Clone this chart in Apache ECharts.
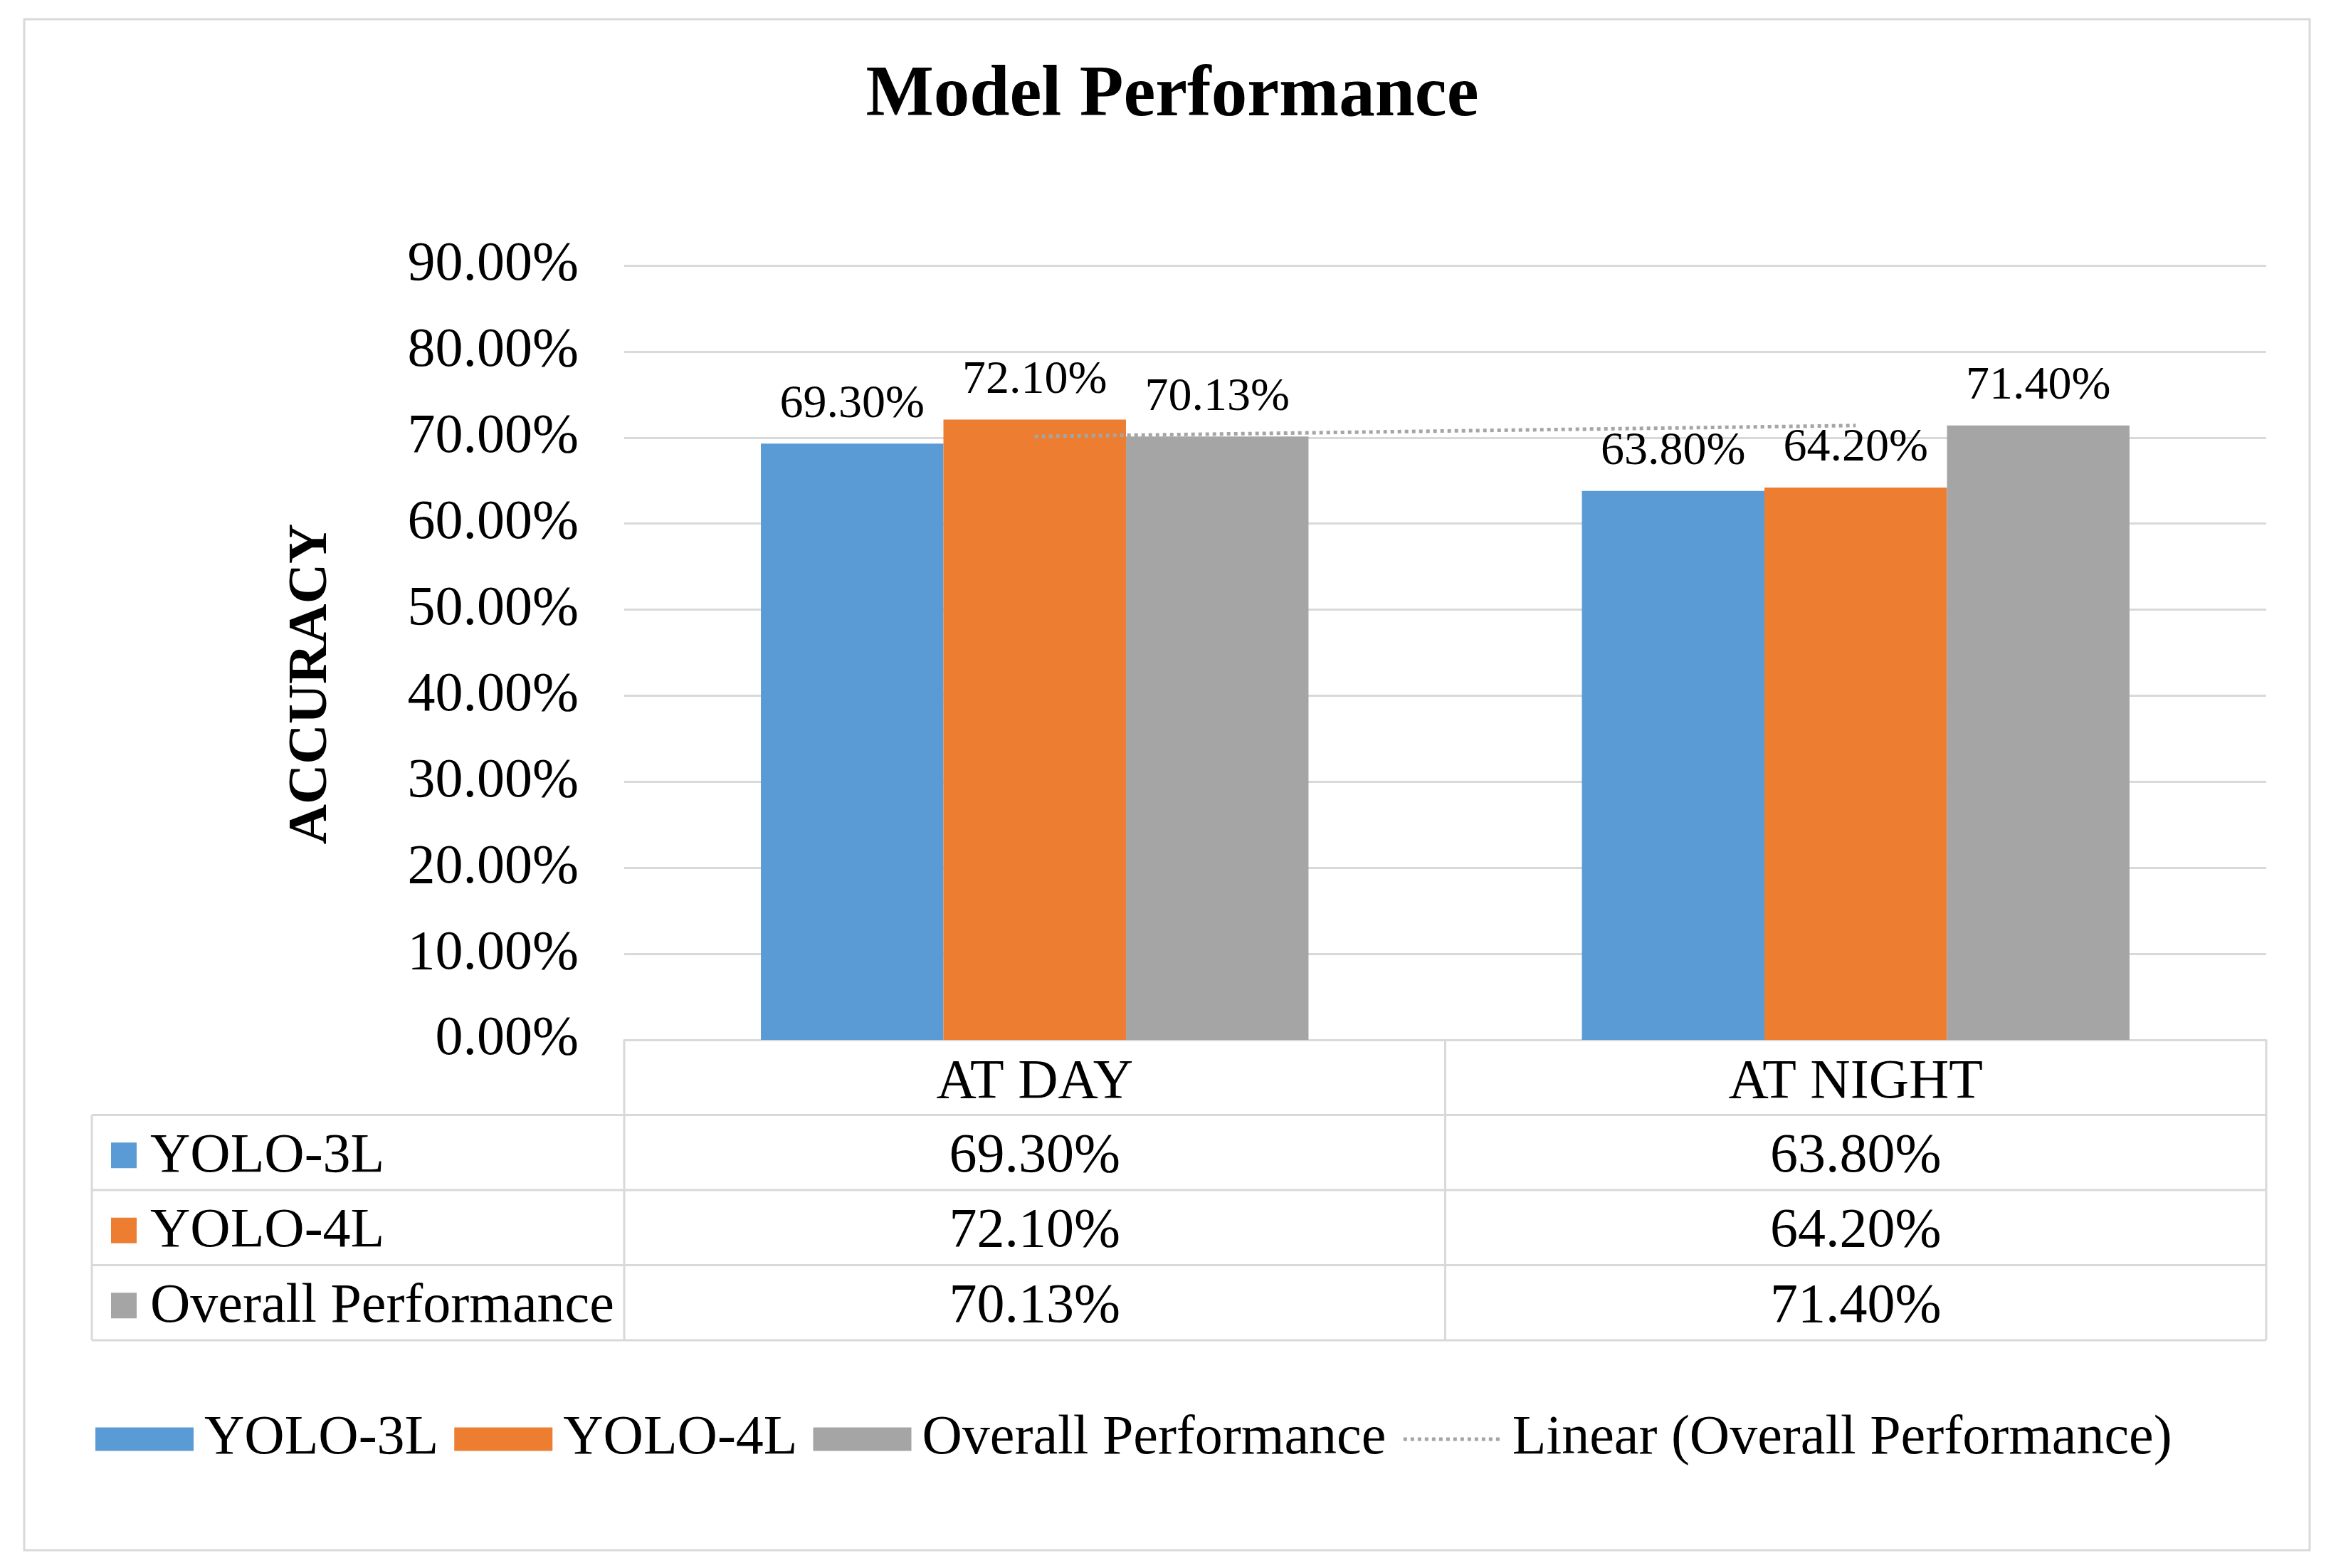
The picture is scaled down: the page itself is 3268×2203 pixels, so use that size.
<!DOCTYPE html>
<html>
<head>
<meta charset="utf-8">
<title>Model Performance</title>
<script src="https://cdn.jsdelivr.net/npm/echarts@6/dist/echarts.min.js"></script>
<style>
  html, body { margin: 0; padding: 0; background: #fff; }
  #chart { width: 3268px; height: 2203px; }
</style>
</head>
<body>
<div id="chart"></div>
<script>
// values
const categories = ['AT DAY', 'AT NIGHT']
const seriesNames = ['YOLO-3L', 'YOLO-4L', 'Overall Performance']
const yolo3L = [0.693, 0.638]
const yolo4L = [0.721, 0.642]
const overall = [0.7013, 0.714]
// a linear fit through two points is the two points themselves
const trendName = 'Linear (Overall Performance)'
const trend = overall.slice()
const yMax = 0.9
const yStep = 0.1

const colors = ['#5b9bd5', '#ed7d31', '#a5a5a5']
const font = "'Liberation Serif', 'Times New Roman', serif"
const fs = 78
const lineColor = '#d9d9d9'
const trendStyle = { color: '#a5a5a5', width: 5, type: 'dotted' }

// layout
const W = 3268
const H = 2203
const gridLeft = 877
const gridRight = 3184
const gridTop = 373
const gridBottom = 1461
const rowH = 105.5
const tableLeft = 129

const pct = v => (v * 100).toFixed(2) + '%'

const chart = echarts.init(document.getElementById('chart'))

const barSeries = [yolo3L, yolo4L, overall].map((d, i) => ({
  name: seriesNames[i],
  type: 'bar',
  data: d,
  barGap: '0%',
  barCategoryGap: '33.3%',
  itemStyle: { color: colors[i] },
  label: {
    show: true,
    position: 'top',
    distance: 22,
    formatter: p => pct(p.value),
    fontFamily: font,
    fontSize: 66,
    color: '#000'
  }
}))

chart.setOption({
  animation: false,
  backgroundColor: '#fff',
  title: {
    text: 'Model Performance',
    left: 1642,
    top: 80,
    textAlign: 'center',
    textStyle: { fontFamily: font, fontSize: 101, fontWeight: 'bold', color: '#000' }
  },
  legend: {
    left: tableLeft,
    top: 1978,
    itemWidth: 138,
    itemHeight: 33,
    itemGap: 22,
    textStyle: { fontFamily: font, fontSize: fs, color: '#000', padding: [0, 0, 0, 10] },
    data: [
      { name: seriesNames[0], icon: 'rect' },
      { name: seriesNames[1], icon: 'rect' },
      { name: seriesNames[2], icon: 'rect' },
      { name: trendName, itemStyle: { opacity: 0 }, lineStyle: trendStyle }
    ]
  },
  grid: {
    left: gridLeft,
    right: W - gridRight,
    top: gridTop,
    bottom: H - gridBottom
  },
  xAxis: {
    type: 'category',
    data: categories,
    axisLine: { lineStyle: { color: lineColor, width: 3 } },
    axisTick: { show: false },
    axisLabel: { fontFamily: font, fontSize: fs, color: '#000', margin: 22 }
  },
  yAxis: {
    type: 'value',
    min: 0,
    max: yMax,
    interval: yStep,
    name: 'ACCURACY',
    nameLocation: 'middle',
    nameRotate: 90,
    nameGap: 400,
    nameTextStyle: {
      fontFamily: font,
      fontSize: 78,
      fontWeight: 'bold',
      color: '#000',
      padding: [0, 88, 0, 0]
    },
    axisLine: { show: false },
    axisTick: { show: false },
    splitLine: { lineStyle: { color: lineColor, width: 3 } },
    axisLabel: {
      fontFamily: font,
      fontSize: fs,
      color: '#000',
      margin: 64,
      formatter: v => pct(v)
    }
  },
  series: barSeries.concat([{
    name: trendName,
    type: 'line',
    data: trend,
    symbol: 'none',
    z: 5,
    itemStyle: { color: '#a5a5a5' },
    lineStyle: trendStyle
  }])
})

// data table below the plot, with frame
const g = []
const line = (x1, y1, x2, y2) => ({
  type: 'line',
  shape: { x1, y1, x2, y2 },
  style: { stroke: lineColor, lineWidth: 3 },
  silent: true
})
g.push({
  type: 'rect',
  shape: { x: 34, y: 27, width: 3211, height: 2151 },
  style: { fill: null, stroke: lineColor, lineWidth: 3 },
  silent: true,
  z: -1
})
const xs = [gridLeft, (gridLeft + gridRight) / 2, gridRight]
const tableBottom = gridBottom + rowH * 4
for (let r = 1; r <= 4; r++) {
  g.push(line(tableLeft, gridBottom + rowH * r, gridRight, gridBottom + rowH * r))
}
g.push(line(tableLeft, gridBottom + rowH, tableLeft, tableBottom))
xs.forEach(x => g.push(line(x, gridBottom, x, tableBottom)))

const rows = [yolo3L, yolo4L, overall]
rows.forEach((d, r) => {
  const cy = gridBottom + rowH * (r + 1.5) + 6
  g.push({
    type: 'rect',
    shape: { x: 156, y: cy - 20, width: 36, height: 36 },
    style: { fill: colors[r] },
    silent: true
  })
  g.push({
    type: 'text',
    x: 211,
    y: cy,
    style: {
      text: seriesNames[r],
      fontFamily: font,
      fontSize: fs,
      fill: '#000',
      verticalAlign: 'middle'
    },
    silent: true
  })
  d.forEach((v, i) => {
    const cx = chart.convertToPixel({ xAxisIndex: 0 }, i)
    g.push({
      type: 'text',
      x: cx,
      y: cy,
      style: {
        text: pct(v),
        fontFamily: font,
        fontSize: fs,
        fill: '#000',
        align: 'center',
        verticalAlign: 'middle'
      },
      silent: true
    })
  })
})

chart.setOption({ graphic: g })
</script>
</body>
</html>
